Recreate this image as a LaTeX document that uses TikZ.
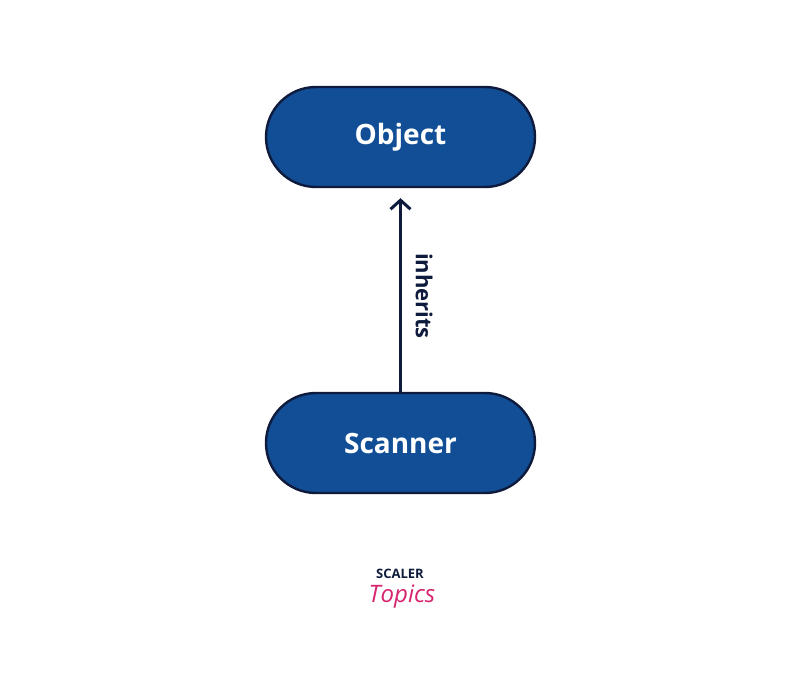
\documentclass[tikz,border=0pt]{standalone}
\usepackage{fontspec}
\setmainfont{Open Sans}
\usetikzlibrary{arrows.meta}
\definecolor{pillblue}{HTML}{124E96}
\definecolor{navy}{HTML}{0E1B3C}
\definecolor{pinkc}{HTML}{D6246E}
\tikzset{
  pill/.style={draw=navy, line width=2.4pt, fill=pillblue, rounded corners=50pt,
    minimum width=269pt, minimum height=100pt, text=white, font=\bfseries\fontsize{28}{30}\selectfont},
}
\begin{document}
\begin{tikzpicture}[x=1pt,y=-1pt]
\useasboundingbox (0,0) rectangle (800,686);
\node[pill] (obj) at (400.5,137) {Object};
\node[pill] (scan) at (400.5,443) {Scanner};
\draw[navy, line width=3pt, -{Straight Barb[length=9pt,width=20pt,line width=3pt]}] (scan.north) -- ([yshift=-10pt]obj.south);
\node[rotate=-90, text=navy, font=\bfseries\fontsize{22}{24}\selectfont] (lab) at (424,296) {inherits};
\node[text=navy, font=\bfseries\fontsize{13}{14}\selectfont] (sc) at (400,574) {SCALER};
\node[text=pinkc, font=\itshape\fontsize{24}{26}\selectfont] (tp) at (402,597) {Topics};
\end{tikzpicture}
\end{document}
